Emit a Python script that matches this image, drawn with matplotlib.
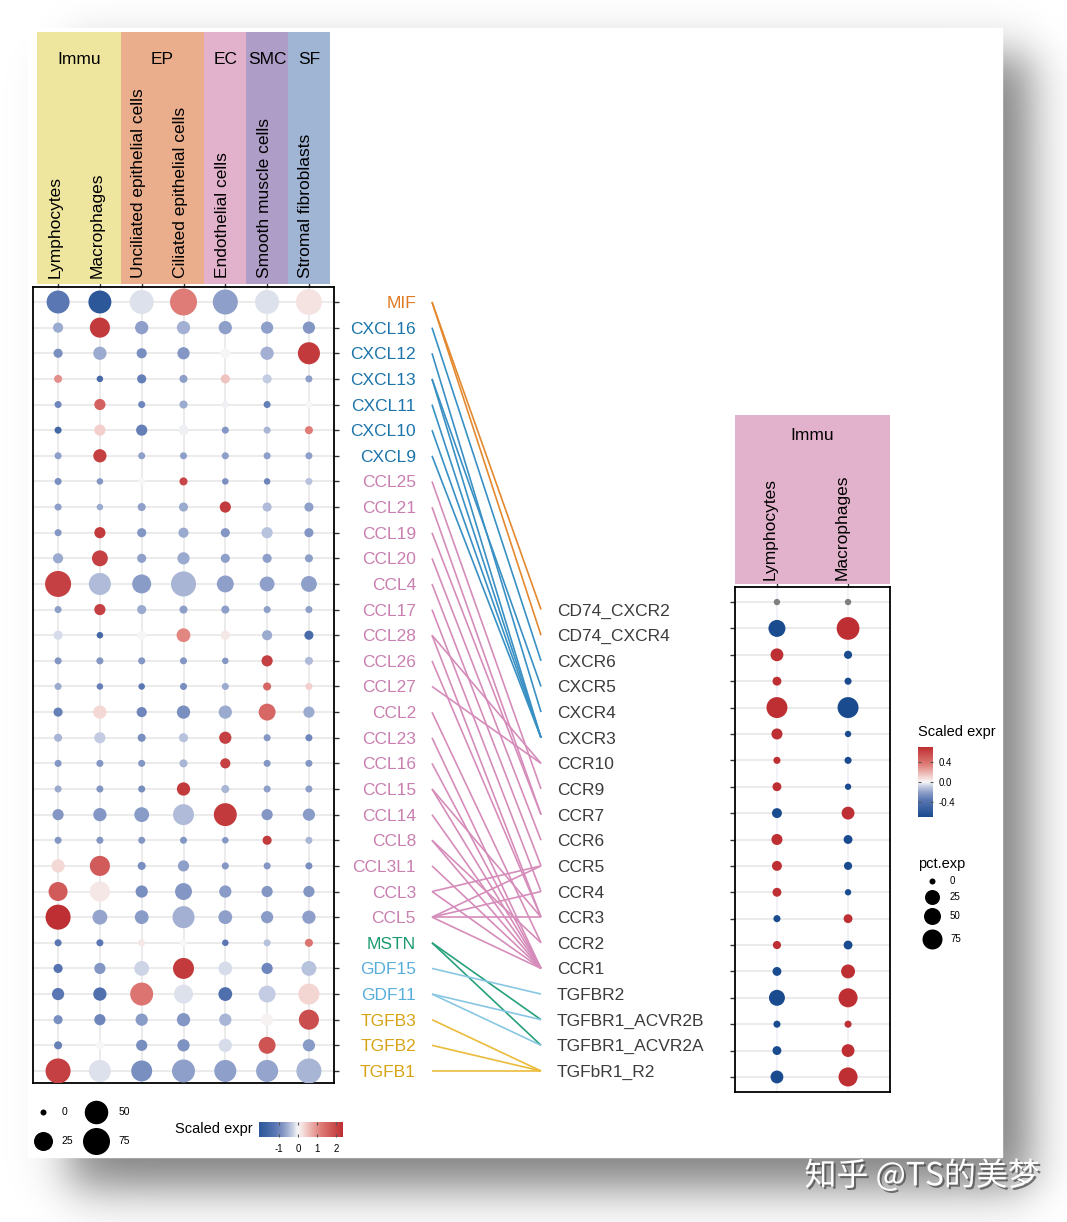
import numpy as np
import matplotlib
matplotlib.use("Agg")
import matplotlib.pyplot as plt
import matplotlib.patheffects as pe
from matplotlib.colors import LinearSegmentedColormap, Normalize
from matplotlib.patches import Rectangle

plt.rcParams['font.family'] = ['Liberation Sans', 'DejaVu Sans']
plt.rcParams['axes.unicode_minus'] = False

# ---------------- data ----------------
cells = ["Lymphocytes", "Macrophages", "Unciliated epithelial cells",
         "Ciliated epithelial cells", "Endothelial cells",
         "Smooth muscle cells", "Stromal fibroblasts"]
cell_groups = ["Immu", "Immu", "EP", "EP", "EC", "SMC", "SF"]

ligands = ["MIF", "CXCL16", "CXCL12", "CXCL13", "CXCL11", "CXCL10", "CXCL9",
           "CCL25", "CCL21", "CCL19", "CCL20", "CCL4", "CCL17", "CCL28", "CCL26",
           "CCL27", "CCL2", "CCL23", "CCL16", "CCL15", "CCL14", "CCL8", "CCL3L1",
           "CCL3", "CCL5", "MSTN", "GDF15", "GDF11", "TGFB3", "TGFB2", "TGFB1"]
lig_family = ["MIF"] + ["CXCL"] * 6 + ["CCL"] * 18 + ["MSTN"] + ["GDF"] * 2 + ["TGFB"] * 3

# percent expressing, rows = ligands, cols = cells
pct_left = [
    [47, 47, 54, 75, 61, 54, 68],
    [8, 31, 14, 14, 14, 12, 12],
    [6, 14, 8, 12, 8, 14, 42],
    [4, 1, 6, 4, 6, 6, 2],
    [2, 10, 2, 4, 2, 2, 2],
    [2, 10, 10, 8, 2, 2, 4],
    [2, 14, 2, 2, 2, 2, 2],
    [2, 1, 2, 4, 1, 1, 2],
    [2, 1, 4, 6, 10, 6, 6],
    [2, 10, 6, 8, 6, 10, 6],
    [8, 19, 6, 12, 6, 6, 4],
    [68, 42, 25, 61, 21, 17, 19],
    [2, 10, 6, 4, 4, 2, 2],
    [6, 1, 6, 15, 6, 8, 6],
    [2, 2, 2, 2, 1, 10, 4],
    [2, 1, 1, 2, 2, 4, 2],
    [6, 14, 8, 14, 14, 21, 10],
    [4, 10, 4, 6, 12, 2, 2],
    [2, 2, 2, 4, 8, 2, 2],
    [2, 2, 2, 14, 4, 2, 2],
    [10, 14, 17, 36, 47, 10, 12],
    [2, 2, 2, 2, 1, 6, 2],
    [14, 31, 4, 10, 2, 2, 2],
    [25, 31, 12, 21, 12, 10, 10],
    [61, 17, 15, 42, 15, 12, 14],
    [2, 2, 2, 2, 1, 2, 4],
    [6, 10, 17, 36, 15, 10, 17],
    [12, 14, 47, 25, 15, 21, 36],
    [6, 10, 12, 14, 12, 12, 31],
    [4, 4, 10, 12, 14, 21, 12],
    [61, 42, 36, 47, 42, 42, 61],
]
# scaled expression
expr_left = [
    [-1.2, -2.05, -0.15, 1.2, -0.7, -0.15, 0.2],
    [-0.6, 2.2, -0.7, -0.55, -0.7, -0.7, -0.8],
    [-0.9, -0.6, -0.9, -0.8, 0.0, -0.55, 2.2],
    [1.0, -1.5, -1.1, -0.7, 0.5, -0.3, -0.7],
    [-1.0, 1.6, -1.0, -0.6, -0.05, -1.1, 0.0],
    [-1.6, 0.4, -1.1, -0.05, -0.8, -0.5, 1.2],
    [-0.7, 2.1, -0.7, -0.7, -0.7, -0.7, -0.7],
    [-0.9, -0.8, 0.0, 2.0, -0.9, -1.0, -0.4],
    [-0.7, -0.6, -0.7, -0.6, 2.2, -0.45, -0.7],
    [-0.8, 2.2, -0.8, -0.6, -0.8, -0.4, -0.8],
    [-0.6, 2.1, -0.7, -0.6, -0.7, -0.7, -0.7],
    [2.1, -0.45, -0.75, -0.5, -0.7, -0.7, -0.7],
    [-0.7, 2.1, -0.6, -0.7, -0.7, -0.7, -0.7],
    [-0.2, -1.6, 0.0, 1.1, 0.15, -0.6, -1.5],
    [-0.8, -0.8, -0.8, -0.8, -0.8, 2.1, -0.45],
    [-0.6, -1.1, -1.2, -0.9, -0.6, 1.5, 0.4],
    [-1.1, 0.3, -1.0, -0.9, -0.6, 1.5, -0.6],
    [-0.5, -0.3, -0.9, -0.4, 2.1, -0.8, -1.0],
    [-0.8, -0.8, -0.8, -0.5, 2.1, -0.8, -0.8],
    [-0.6, -0.8, -0.9, 2.2, -0.5, -0.7, -0.7],
    [-0.8, -0.8, -0.75, -0.45, 2.2, -0.8, -0.75],
    [-0.8, -0.8, -0.8, -0.8, -0.8, 2.2, -0.5],
    [0.3, 1.7, -0.9, -0.7, -0.8, -0.8, -0.9],
    [1.7, 0.15, -0.9, -0.8, -0.75, -0.8, -0.8],
    [2.37, -0.65, -0.75, -0.55, -0.7, -0.75, -0.7],
    [-1.2, -1.2, 0.15, 0.0, -1.2, -0.4, 1.3],
    [-1.3, -0.8, -0.25, 2.2, -0.2, -1.0, -0.4],
    [-1.2, -1.4, 1.3, -0.15, -1.4, -0.3, 0.35],
    [-0.9, -1.0, -0.75, -0.8, -0.5, 0.05, 1.9],
    [-1.1, 0.0, -0.9, -0.85, -0.2, 1.8, -0.75],
    [2.1, -0.15, -0.9, -0.7, -0.7, -0.65, -0.5],
]

receptors = ["CD74_CXCR2", "CD74_CXCR4", "CXCR6", "CXCR5", "CXCR4", "CXCR3",
             "CCR10", "CCR9", "CCR7", "CCR6", "CCR5", "CCR4", "CCR3", "CCR2",
             "CCR1", "TGFBR2", "TGFBR1_ACVR2B", "TGFBR1_ACVR2A", "TGFbR1_R2"]
right_cells = ["Lymphocytes", "Macrophages"]
pct_right = [[1, 1], [50, 98], [19, 6], [8, 3], [83, 83], [14, 1], [3, 3], [8, 1],
             [11, 19], [14, 8], [11, 6], [8, 1], [3, 8], [6, 8], [8, 22],
             [37, 67], [3, 3], [8, 19], [19, 67]]
lymph_sign = [np.nan, -1, 1, 1, 1, 1, 1, 1, -1, 1, 1, 1, -1, 1, -1, -1, -1, -1, -1]
expr_right = [[0.707 * s, -0.707 * s] for s in lymph_sign]

links = [("MIF", "CD74_CXCR2"), ("MIF", "CD74_CXCR4"),
         ("CXCL16", "CXCR6"), ("CXCL12", "CXCR4"), ("CXCL13", "CXCR5"),
         ("CXCL13", "CXCR3"), ("CXCL11", "CXCR3"), ("CXCL10", "CXCR3"),
         ("CXCL9", "CXCR3"),
         ("CCL25", "CCR9"), ("CCL21", "CCR7"), ("CCL19", "CCR7"), ("CCL20", "CCR6"),
         ("CCL4", "CCR5"), ("CCL17", "CCR4"), ("CCL28", "CCR10"), ("CCL28", "CCR3"),
         ("CCL26", "CCR3"), ("CCL27", "CCR10"), ("CCL2", "CCR2"), ("CCL23", "CCR1"),
         ("CCL16", "CCR1"), ("CCL15", "CCR1"), ("CCL15", "CCR3"), ("CCL14", "CCR1"),
         ("CCL8", "CCR1"), ("CCL8", "CCR2"), ("CCL3L1", "CCR1"), ("CCL3", "CCR1"),
         ("CCL3", "CCR5"), ("CCL5", "CCR1"), ("CCL5", "CCR3"), ("CCL5", "CCR4"),
         ("CCL5", "CCR5"),
         ("MSTN", "TGFBR1_ACVR2B"), ("MSTN", "TGFBR1_ACVR2A"), ("GDF15", "TGFBR2"),
         ("GDF11", "TGFBR1_ACVR2B"), ("GDF11", "TGFBR1_ACVR2A"),
         ("TGFB3", "TGFbR1_R2"), ("TGFB2", "TGFbR1_R2"), ("TGFB1", "TGFbR1_R2")]

pct_keys = [0, 25, 50, 75]

# ---------------- styles ----------------
group_colors = {"Immu": "#EEE59F", "EP": "#EAAE8C", "EC": "#E2B2CC",
                "SMC": "#AE9DC7", "SF": "#A0B4D4"}
fam_text = {"MIF": "#E07B22", "CXCL": "#1C74AA", "CCL": "#C97FB0",
            "MSTN": "#1B9A72", "GDF": "#58AEDA", "TGFB": "#D8A416"}
fam_line = {"MIF": "#E3892F", "CXCL": "#3990C4", "CCL": "#D68CBA",
            "MSTN": "#27A07C", "GDF": "#88C7E3", "TGFB": "#EBBB3A"}

nodes = [-2.37, -1.2, -0.7, -0.3, 0.0, 0.4, 1.2, 2.37]
node_cols = ["#1A4B8F", "#5B77B3", "#8E9FC9", "#C5CDE3", "#F7F7F7",
             "#F2CFCC", "#DF7C77", "#BE2F33"]
cmap = LinearSegmentedColormap.from_list(
    "expr", [((v - nodes[0]) / (nodes[-1] - nodes[0]), c) for v, c in zip(nodes, node_cols)])
norm_l = Normalize(-2.37, 2.37)
norm_r = Normalize(-0.707, 0.707)
cmap_r = cmap.with_extremes(bad="#7F7F7F")


def size_left(p):
    d = np.interp(p, [0, 25, 50, 75, 100], [6, 19, 23.5, 27, 30])
    return (d * 0.72) ** 2


def size_right(p):
    d = np.interp(p, [0, 25, 50, 75, 100], [6, 15, 17, 20, 23])
    return (d * 0.72) ** 2


W, H = 1067, 1222
fig = plt.figure(figsize=(W / 100, H / 100), dpi=100)


def box(x0, y0, x1, y1):
    return [x0 / W, 1 - y1 / H, (x1 - x0) / W, (y1 - y0) / H]


# paper + drop shadow
bg = fig.add_axes([0, 0, 1, 1], zorder=-10)
xx = np.arange(W) + 0.5
yy = np.arange(H) + 0.5
sig = lambda t: 1 / (1 + np.exp(-t))
sx = sig((xx - 70) / 14) * sig((1030 - xx) / 14)
sy = sig((yy - 55) / 14) * sig((1188 - yy) / 14)
shade = 1 - 0.5 * np.outer(sy, sx)
bg.imshow(shade, cmap="gray", vmin=0, vmax=1, extent=(0, W, H, 0), aspect="auto")
bg.add_patch(Rectangle((28, 28), 974, 1129, color="white"))
bg.set_xlim(0, W)
bg.set_ylim(H, 0)
bg.axis("off")

n_lig = len(ligands)
n_rec = len(receptors)
ylim_left = (n_lig - 1 + 0.47, -0.585)

# ---------------- left dot plot ----------------
ax = fig.add_axes(box(33, 287, 334, 1083))
gx, gy = np.meshgrid(np.arange(len(cells)), np.arange(n_lig))
ax.scatter(gx.ravel(), gy.ravel(), s=size_left(np.array(pct_left).ravel()),
           c=np.array(expr_left).ravel(), cmap=cmap, norm=norm_l, linewidths=0, zorder=3)
ax.set_xlim(-0.6, len(cells) - 0.4)
ax.set_ylim(*ylim_left)
ax.set_xticks(range(len(cells)))
ax.set_yticks(range(n_lig))
ax.grid(True, color="#E8E8E8", lw=1.2)
ax.set_axisbelow(True)
ax.tick_params(top=True, bottom=False, left=False, right=True, labeltop=False,
               labelbottom=False, labelleft=False, labelright=False,
               length=3.5, width=1, color="#333333")
for sp in ax.spines.values():
    sp.set_linewidth(1.3)

# header of left plot
hx = fig.add_axes(box(33, 32, 334, 284))
hx.set_xlim(-0.6, len(cells) - 0.4)
hx.set_ylim(0, 1)
hx.axis("off")
start = 0
for i in range(1, len(cells) + 1):
    if i == len(cells) or cell_groups[i] != cell_groups[start]:
        g = cell_groups[start]
        hx.add_patch(Rectangle((start - 0.5, 0), i - start, 1, color=group_colors[g], lw=0))
        hx.text((start + i - 1) / 2, 0.89, g, ha="center", va="center", fontsize=12.5)
        start = i
for i, c in enumerate(cells):
    hx.text(i - 0.07, 0.024, c, rotation=90, ha="center", va="bottom", fontsize=12.5)

# ---------------- middle: labels and links ----------------
mx = fig.add_axes(box(338, 287, 730, 1083))
mx.set_xlim(338, 730)
mx.set_ylim(*ylim_left)
mx.axis("off")
lig_row = {l: i for i, l in enumerate(ligands)}
rec_row = {r: n_lig - n_rec + j for j, r in enumerate(receptors)}
for l, f in zip(ligands, lig_family):
    mx.text(416, lig_row[l], l, ha="right", va="center_baseline", fontsize=12.5,
            color=fam_text[f])
for r in receptors:
    mx.text(557, rec_row[r], r, ha="left", va="center_baseline", fontsize=12.5,
            color="#3C3C3C")
for l, r in links:
    f = lig_family[lig_row[l]]
    mx.plot([432, 541], [lig_row[l], rec_row[r]], color=fam_line[f], lw=1.2,
            solid_capstyle="butt")

# ---------------- right dot plot ----------------
ax2 = fig.add_axes(box(735, 587, 890, 1092))
rx, ry = np.meshgrid(np.arange(len(right_cells)), np.arange(n_rec))
ax2.scatter(rx.ravel(), ry.ravel(), s=size_right(np.array(pct_right).ravel()),
            c=np.array(expr_right).ravel(), cmap=cmap_r, norm=norm_r,
            plotnonfinite=True, linewidths=0, zorder=3)
ax2.set_xlim(-0.59, 1.59)
ax2.set_ylim(n_rec - 1 + 0.57, -0.57)
ax2.set_xticks(range(len(right_cells)))
ax2.set_yticks(range(n_rec))
ax2.grid(True, axis="y", color="#E8E8E8", lw=1.2)
ax2.grid(True, axis="x", color="#EEF0F6", lw=1.2)
ax2.set_axisbelow(True)
ax2.tick_params(top=True, bottom=False, left=True, right=False, labeltop=False,
                labelbottom=False, labelleft=False, length=3.5, width=1, color="#333333")
for sp in ax2.spines.values():
    sp.set_linewidth(1.3)

hx2 = fig.add_axes(box(735, 415, 890, 584))
hx2.set_xlim(-0.59, 1.59)
hx2.set_ylim(0, 1)
hx2.axis("off")
hx2.add_patch(Rectangle((-0.59, 0), 2.18, 1, color="#E2B2CC", lw=0))
hx2.text(0.5, 0.88, "Immu", ha="center", va="center", fontsize=12.5)
for i, c in enumerate(right_cells):
    hx2.text(i - 0.09, 0.024, c, rotation=90, ha="center", va="bottom", fontsize=12.5)

# ---------------- legends ----------------
ov = fig.add_axes([0, 0, 1, 1], zorder=5)
ov.set_xlim(0, W)
ov.set_ylim(H, 0)
ov.axis("off")

# left size legend (2 x 2)
for i, p in enumerate(pct_keys):
    col, row = i // 2, i % 2
    xk = 43 + 53 * col
    yk = 1112 + 29 * row
    colmax = np.sqrt(size_left(pct_keys[2 * col + 1])) / 0.72
    ov.scatter([xk], [yk], s=size_left(p), color="black", linewidths=0)
    ov.text(xk + colmax / 2 + 9, yk, str(p), ha="left", va="center", fontsize=7.5)

ov.text(253, 1129, "Scaled expr", ha="right", va="center", fontsize=10.5)
lo = min(min(r) for r in expr_left)
hi = max(max(r) for r in expr_left)
cb = fig.add_axes(box(259, 1122, 343, 1137))
cb.imshow(np.linspace(lo, hi, 256)[None, :], cmap=cmap, norm=norm_l, aspect="auto",
          extent=(lo, hi, 0, 1))
cb.set_xticks([-1, 0, 1, 2])
cb.set_yticks([])
cb.tick_params(axis="x", direction="in", top=True, length=2.5, width=0.8,
               color="#555555", labelsize=7, pad=5)
for sp in cb.spines.values():
    sp.set_visible(False)

# right colour legend
ov.text(918, 732, "Scaled expr", ha="left", va="center", fontsize=10.5)
cb2 = fig.add_axes(box(918, 747, 933, 817))
cb2.imshow(np.linspace(-0.707, 0.707, 256)[:, None], cmap=cmap, norm=norm_r,
           aspect="auto", extent=(0, 1, -0.707, 0.707), origin="lower")
cb2.set_yticks([0.4, 0.0, -0.4])
cb2.set_yticklabels(["0.4", "0.0", "-0.4"])
cb2.yaxis.tick_right()
cb2.set_xticks([])
cb2.tick_params(axis="y", direction="in", left=True, right=True, length=2.5,
                width=0.8, color="#555555", labelsize=7, pad=4)
for sp in cb2.spines.values():
    sp.set_visible(False)

# right size legend
ov.text(918, 864, "pct.exp", ha="left", va="center", fontsize=10.5)
for p, yk in zip(pct_keys, [881, 897, 916, 939]):
    ov.scatter([932], [yk], s=size_right(p), color="black", linewidths=0)
    ov.text(950, yk, str(p), ha="left", va="center", fontsize=7)

# watermark
ov.text(1040, 1176, "知乎 @TS的美梦", ha="right", va="center", fontsize=23,
        color="white", family=["Noto Sans CJK SC", "DejaVu Sans"],
        path_effects=[pe.withSimplePatchShadow(offset=(1.5, -1.5),
                                               shadow_rgbFace="#444444", alpha=0.7)])

fig.savefig("out.png", dpi=100)
